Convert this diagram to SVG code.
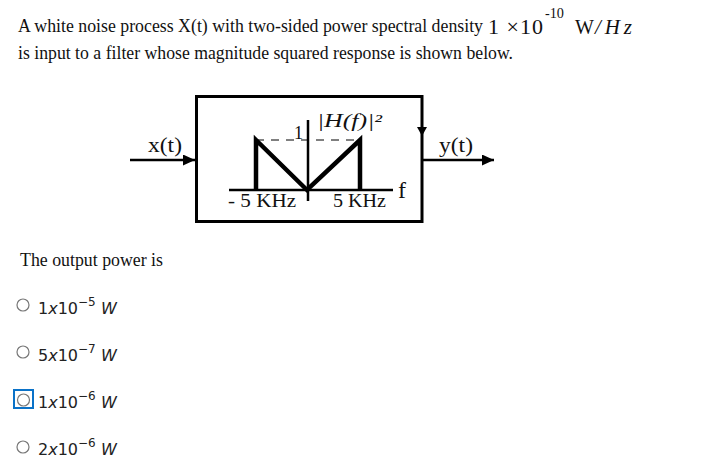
<svg xmlns="http://www.w3.org/2000/svg" width="719" height="475" viewBox="0 0 719 475">
<style>
.s{font-family:"Liberation Serif",serif;fill:#111}
.d{font-family:"DejaVu Sans",sans-serif;fill:#222}
.o{font-size:16px}
.i{font-style:italic}
.e{font-size:12px}
.r{fill:#fff;stroke:#777;stroke-width:1.2}
.k{stroke:#000;fill:none}
</style>
<defs>
<marker id="a" markerUnits="userSpaceOnUse" markerWidth="14" markerHeight="12" refX="12" refY="5.500" orient="auto"><path d="M0 0L12 5.500L0 11z" fill="#000"/></marker>
</defs>
<rect width="719" height="475" fill="#fff"/>
<g id="question">
<text class="s" x="18" y="32" font-size="18" textLength="465" lengthAdjust="spacingAndGlyphs">A white noise process X(t) with two-sided power spectral density</text>
<text class="s" x="488" y="34" font-size="22" textLength="55" lengthAdjust="spacing">1 ×10</text>
<text class="s" x="545" y="18" font-size="14" textLength="19" lengthAdjust="spacingAndGlyphs">-10</text>
<text class="s" x="575" y="34" font-size="20">W</text>
<text class="s i" x="595" y="34" font-size="21" textLength="37" lengthAdjust="spacing">/Hz</text>
<text class="s" x="18" y="59" font-size="18" textLength="495" lengthAdjust="spacingAndGlyphs">is input to a filter whose magnitude squared response is shown below.</text>
</g>
<g id="filter">
<rect class="k" x="196.500" y="96.500" width="225.500" height="125" stroke-width="3"/>
</g>
<g id="plot">
<path class="k" d="M229 190H393M308 120V201" stroke-width="2.500"/>
<path class="k" d="M256 190V140L307 190L360 140V190" stroke-width="4.500"/>
<path class="k" d="M256 140H360" stroke-width="1" stroke-dasharray="8 7"/>
<text class="s" x="294" y="139" font-size="18">1</text>
<text class="s i" x="317" y="127" font-size="18" textLength="65" lengthAdjust="spacingAndGlyphs">|H(f)|²</text>
<text class="s" x="228" y="207" font-size="18" textLength="68" lengthAdjust="spacingAndGlyphs">- 5 KHz</text>
<text class="s" x="333" y="207" font-size="18" textLength="53" lengthAdjust="spacingAndGlyphs">5 KHz</text>
<text class="s" x="398" y="198" font-size="24">f</text>
</g>
<g id="connectors">
<path class="k" d="M130 160H195" stroke-width="2.500" marker-end="url(#a)"/>
<path class="k" d="M423 160H494" stroke-width="2.500" marker-end="url(#a)"/>
<path d="M417 127L427 127L422 136z" fill="#000"/>
</g>
<g id="labels">
<text class="s" x="148" y="152" font-size="20" textLength="34" lengthAdjust="spacingAndGlyphs">x(t)</text>
<text class="s" x="439" y="152" font-size="20" textLength="34" lengthAdjust="spacingAndGlyphs">y(t)</text>
</g>
<text class="s" x="20" y="266" font-size="18" textLength="143" lengthAdjust="spacingAndGlyphs">The output power is</text>
<g id="option1">
<circle class="r" cx="23" cy="305" r="6"/>
<text class="d o" x="38" y="314">1<tspan class="i">x</tspan>10</text><text class="d e" x="78" y="306">−5</text><text class="d o i" x="101" y="314">W</text>
</g>
<g id="option2">
<circle class="r" cx="23" cy="352" r="6"/>
<text class="d o" x="38" y="361">5<tspan class="i">x</tspan>10</text><text class="d e" x="78" y="353">−7</text><text class="d o i" x="101" y="361">W</text>
</g>
<g id="option3">
<rect x="14" y="390" width="19" height="18" fill="none" stroke="#0a72c8" stroke-width="2"/>
<circle class="r" cx="23.500" cy="400" r="6"/>
<text class="d o" x="38" y="408">1<tspan class="i">x</tspan>10</text><text class="d e" x="78" y="400">−6</text><text class="d o i" x="101" y="408">W</text>
</g>
<g id="option4">
<circle class="r" cx="23" cy="447" r="6"/>
<text class="d o" x="38" y="455">2<tspan class="i">x</tspan>10</text><text class="d e" x="78" y="447">−6</text><text class="d o i" x="101" y="455">W</text>
</g>
</svg>
